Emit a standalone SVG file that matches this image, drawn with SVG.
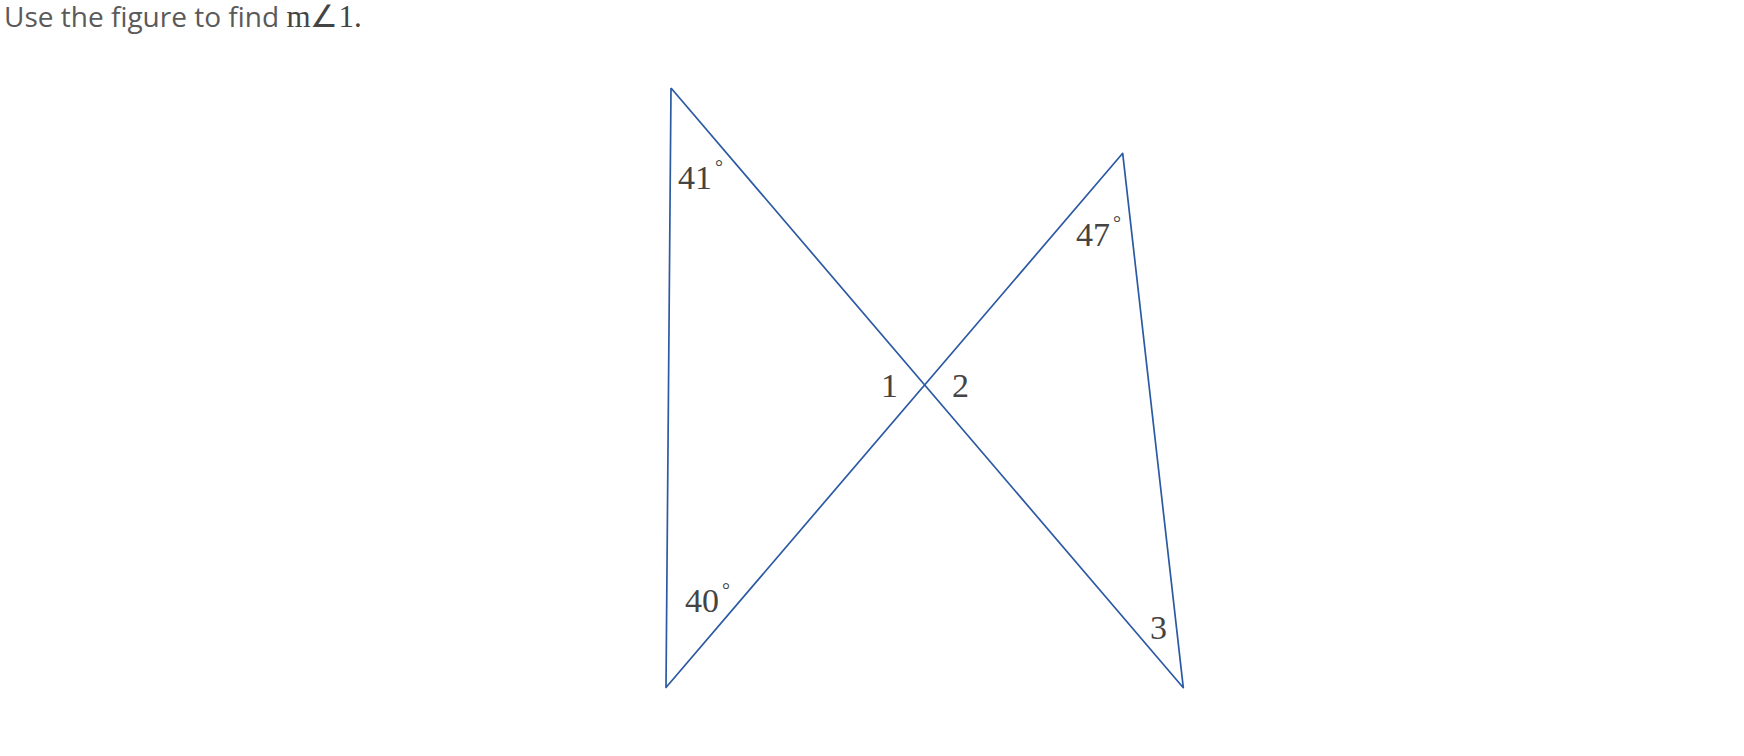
<svg xmlns="http://www.w3.org/2000/svg" width="1744" height="756" viewBox="0 0 1744 756">
<style>
.ln{stroke:#2b5aa3;stroke-width:1.7;fill:none;stroke-linejoin:round}
.lb{font-family:"Liberation Serif",serif;font-size:34px;fill:#444}
.deg{font-family:"Liberation Serif",serif;font-size:20px;fill:#444}
.t{font-family:"Open Sans",sans-serif;font-size:28px;fill:#5a5a5a}
.tm{font-family:"Liberation Serif",serif;font-size:31px;fill:#444}
</style>
<rect width="1744" height="756" fill="#fff"/>
<g id="title">
<text class="t" x="4" y="27">Use the figure to find <tspan class="tm">m∠1.</tspan></text>
</g>
<g id="connectors">
<polyline class="ln" points="671,88 666,687.5 1122.7,153.3 1183.3,687.7 671,88"/>
</g>
<g id="label-41"><text class="lb" x="678" y="189">41</text><text class="deg" x="715" y="174">°</text></g>
<g id="label-47"><text class="lb" x="1076" y="246">47</text><text class="deg" x="1113" y="230">°</text></g>
<g id="label-40"><text class="lb" x="685" y="612">40</text><text class="deg" x="722" y="597">°</text></g>
<g id="label-1"><text class="lb" x="881" y="397">1</text></g>
<g id="label-2"><text class="lb" x="952" y="397">2</text></g>
<g id="label-3"><text class="lb" x="1150" y="639">3</text></g>
</svg>
